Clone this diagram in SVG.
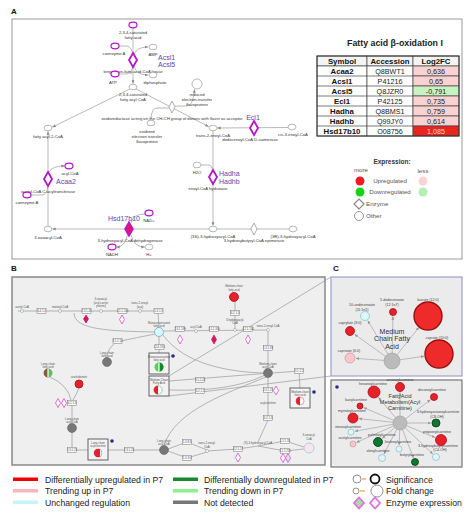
<svg xmlns="http://www.w3.org/2000/svg" width="474" height="519" viewBox="0 0 474 519">
<style>
text{font-family:'Liberation Sans',Arial,sans-serif}
.t4{font-size:4.2px;fill:#333;text-anchor:middle}
.gene{font-size:7px;fill:#5548b0}
.pl{font-size:8px;font-weight:bold;fill:#111}
.mag{fill:#fff;stroke:#b515c8;stroke-width:1.2}
.gry{fill:#fff;stroke:#999;stroke-width:0.7}
.enz{fill:#fff;stroke:#b515c8;stroke-width:1.8}
.genz{fill:#fff;stroke:#999;stroke-width:0.8}
.ln{fill:none;stroke:#8a8a8a;stroke-width:0.6}
.th{font-size:7.8px;font-weight:bold;fill:#111;text-anchor:middle}
.td{font-size:7.2px;fill:#222;text-anchor:middle}
.cell{fill:#fff;stroke:#444;stroke-width:0.7}
.lg{font-size:6.2px;fill:#555}
.bl{fill:none;stroke:#9a9a9a;stroke-width:0.7}
.br{fill:#f9f9f9;stroke:#777;stroke-width:0.5}
.bt{font-size:2.8px;fill:#555;text-anchor:middle}
.sm{fill:#fff;stroke:#888;stroke-width:0.5}
.gc{fill:#777;stroke:#666;stroke-width:0.6}
.pd{fill:#fff;stroke:#e060d0;stroke-width:0.9}
.rd{fill:#e0106a;stroke:#c0105a;stroke-width:0.6}
.frame{fill:#f3f3f3;stroke:#555;stroke-width:0.9}
.ct{font-size:3.6px;fill:#444;text-anchor:middle}
.cl{fill:none;stroke:#999;stroke-width:0.6}
.red{fill:#e8202a;stroke:#a81018;stroke-width:0.8}
.pink{fill:#f9c8cc;stroke:#c88890;stroke-width:0.6}
.cyan{fill:#dcf6fa;stroke:#7fb0c0;stroke-width:0.6}
.dgreen{fill:#10782e;stroke:#063818;stroke-width:0.8}
.leg{font-size:8.7px;fill:#222}
</style>
<defs>
<marker id="ar" viewBox="0 0 6 6" refX="5.5" refY="3" markerWidth="3.5" markerHeight="3.5" orient="auto" markerUnits="userSpaceOnUse"><path d="M0,0.5 L6,3 L0,5.5 Z" fill="#888"/></marker>
<marker id="ac" viewBox="0 0 6 6" refX="5.5" refY="3" markerWidth="3.5" markerHeight="3.5" orient="auto" markerUnits="userSpaceOnUse"><path d="M0,0.5 L6,3 L0,5.5 Z" fill="#999"/></marker>
</defs>
<rect width="474" height="519" fill="#fff"/>

<!-- Panel labels -->
<text class="pl" x="11" y="14">A</text>
<text class="pl" x="11" y="271">B</text>
<text class="pl" x="333" y="271">C</text>

<!-- ================= PANEL A ================= -->
<rect x="12" y="19" width="450" height="240" fill="#fff" stroke="#999" stroke-width="1"/>

<g id="connectorsA">
<path class="ln" d="M133,28 L133,83.5" marker-end="url(#ar)"/>
<path class="ln" d="M119,46 L126,46 Q131,46 132.5,53"/>
<path class="ln" d="M134,55 Q136,47 148,47" marker-end="url(#ar)"/>
<path class="ln" d="M119,74 L126,74 Q131,74 132.5,67"/>
<path class="ln" d="M134,66 Q136,75 148,75" marker-end="url(#ar)"/>
<path class="ln" d="M130,89 L52.5,127" marker-end="url(#ar)"/>
<path class="ln" d="M136,89 L208.5,126.5" marker-end="url(#ar)"/>
<path class="ln" d="M169,108 L157,108 Q151.5,108 151,119"/>
<path class="ln" d="M175,106 L187,106 Q193,106 194.5,89.5" marker-end="url(#ar)"/>
<path class="ln" d="M48,226 L48,131.5" marker-end="url(#ar)"/>
<path class="ln" d="M49,172 Q52,166 64.5,166" marker-end="url(#ar)"/>
<path class="ln" d="M31,195 L42,195 Q47,195 47.5,187"/>
<path class="ln" d="M213,131 L213,225.5" marker-end="url(#ar)"/>
<path class="ln" d="M201,165 L208,165 Q212.5,165 212.5,171"/>
<path class="ln" d="M209,229 L52.5,229" marker-end="url(#ar)"/>
<path class="ln" d="M145,214 Q133,214 131,223"/>
<path class="ln" d="M127.5,235 Q125,247 116.5,247" marker-end="url(#ar)"/>
<path class="ln" d="M131,235 Q134,247 144.5,247" marker-end="url(#ar)"/>
<path class="ln" d="M288,127.5 L217.5,128" marker-end="url(#ar)"/>
<path class="ln" d="M217,229 L289,229"/>
</g>

<g id="a-fattyacid"><ellipse class="mag" cx="133" cy="25" rx="4" ry="2.8"/><text class="t4" x="133" y="33.5">2,3,4-saturated</text><text class="t4" x="133" y="38.5">fatty acid</text></g>
<g id="a-coa1"><ellipse class="mag" cx="115" cy="46" rx="4" ry="2.8"/><text class="t4" x="114" y="54.5">coenzyme A</text></g>
<g id="a-amp"><ellipse class="gry" cx="153" cy="47" rx="4" ry="2.8"/><text class="t4" x="153" y="55.5">AMP</text></g>
<g id="a-acsl"><path class="enz" d="M133,53 L137,60 L133,67 L129,60 Z"/><text class="gene" x="158" y="59.5">Acsl1</text><text class="gene" x="158" y="66.5">Acsl5</text><text class="t4" x="133" y="72.5">long-chain-fatty-acid-CoA ligase</text></g>
<g id="a-atp"><ellipse class="mag" cx="115" cy="74" rx="4" ry="2.8"/><text class="t4" x="113" y="83.5">ATP</text></g>
<g id="a-ppi"><ellipse class="gry" cx="153" cy="75" rx="4" ry="2.8"/><text class="t4" x="155" y="83.5">diphosphate</text></g>
<g id="a-facoa"><ellipse class="gry" cx="133" cy="87" rx="4" ry="2.8"/><text class="t4" x="133" y="95.5">2,3,4-saturated</text><text class="t4" x="133" y="100.5">fatty acyl CoA</text></g>
<g id="a-redetf"><circle class="gry" cx="197" cy="84" r="5"/><text class="t4" x="197" y="95.5">reduced</text><text class="t4" x="197" y="100.5">electron-transfer</text><text class="t4" x="197" y="105.5">flavoprotein</text></g>
<g id="a-oxidored"><path class="genz" d="M172,101 L175,107 L172,113 L169,107 Z"/><text class="t4" x="172" y="119.5">oxidoreductase acting on the CH-CH group of donors with flavin as acceptor</text></g>
<g id="a-oxetf"><ellipse class="gry" cx="151" cy="123" rx="4" ry="2.8"/><text class="t4" x="147" y="132.5">oxidized</text><text class="t4" x="147" y="137.5">electron transfer</text><text class="t4" x="147" y="142.5">flavoprotein</text></g>
<g id="a-fa2"><ellipse class="gry" cx="48" cy="128" rx="4" ry="2.8"/><text class="t4" x="48" y="137.5">fatty acyl-2-CoA</text></g>
<g id="a-acylcoa"><ellipse class="mag" cx="69" cy="166" rx="4" ry="2.8"/><text class="t4" x="70" y="174.5">acyl-CoA</text></g>
<g id="a-acaa2"><path class="enz" d="M48,172 L52,179 L48,186 L44,179 Z"/><text class="gene" x="56" y="183.5">Acaa2</text><text class="t4" x="48" y="192.5">acetyl-CoA C-acyltransferase</text></g>
<g id="a-coa2"><ellipse class="mag" cx="27" cy="195" rx="4" ry="2.8"/><text class="t4" x="27" y="203.5">coenzyme A</text></g>
<g id="a-oxoacyl"><ellipse class="gry" cx="48" cy="229" rx="4" ry="2.8"/><text class="t4" x="48" y="238.5">3-oxoacyl-CoA</text></g>
<g id="a-hsd"><path d="M129,222 L133,229 L129,236 L125,229 Z" fill="#e3157d" stroke="#b515c8" stroke-width="1.5"/><text class="gene" x="124" y="220.5" text-anchor="middle">Hsd17b10</text><text class="t4" x="130" y="241.5">3-hydroxyacyl-CoA dehydrogenase</text></g>
<g id="a-nad"><ellipse class="mag" cx="149" cy="213" rx="4" ry="2.8"/><text class="t4" x="149" y="221.5">NAD+</text></g>
<g id="a-nadh"><ellipse class="mag" cx="112" cy="247" rx="4" ry="2.8"/><text class="t4" x="112" y="255.5">NADH</text></g>
<g id="a-h"><ellipse class="gry" cx="149" cy="247" rx="4" ry="2.8"/><text class="t4" x="149" y="255.5">H+</text></g>
<g id="a-3s"><ellipse class="gry" cx="213" cy="229" rx="4" ry="2.8"/><text class="t4" x="213" y="237.5">(3S)-3-hydroxyacyl-CoA</text></g>
<g id="a-epim"><path class="genz" d="M254,223 L257,229 L254,235 L251,229 Z"/><text class="t4" x="254" y="241.5">3-hydroxybutyryl-CoA epimerase</text></g>
<g id="a-3r"><ellipse class="gry" cx="293" cy="229" rx="4" ry="2.8"/><text class="t4" x="293" y="237.5">(3R)-3-hydroxyacyl-CoA</text></g>
<g id="a-h2o"><ellipse class="gry" cx="197" cy="165" rx="4" ry="2.8"/><text class="t4" x="197" y="173.5">H2O</text></g>
<g id="a-hadh"><path class="enz" d="M213,170 L217,177 L213,184 L209,177 Z"/><text class="gene" x="219" y="175.5">Hadha</text><text class="gene" x="219" y="184">Hadhb</text><text class="t4" x="208" y="189.5">enoyl-CoA hydratase</text></g>
<g id="a-t2"><ellipse class="gry" cx="213" cy="128" rx="4" ry="2.8"/><text class="t4" x="213" y="136.5">trans-2-enoyl-CoA</text></g>
<g id="a-ecl1"><path class="enz" d="M254,121 L258,128 L254,135 L250,128 Z"/><text class="gene" x="253" y="119.5" text-anchor="middle">Ecl1</text><text class="t4" x="250" y="140.5">dodecenoyl-CoA D-isomerase</text></g>
<g id="a-c3"><ellipse class="gry" cx="292" cy="127" rx="4" ry="2.8"/><text class="t4" x="293" y="135.5">cis-3-enoyl-CoA</text></g>

<!-- Table -->
<g id="a-table">
<text x="395" y="46" font-size="8.8" font-weight="bold" fill="#222" text-anchor="middle">Fatty acid β-oxidation I</text>
<rect x="317" y="56" width="50" height="10" class="cell" fill="#f4f4f4" style="fill:#f4f4f4"/>
<rect x="367" y="56" width="46" height="10" class="cell" style="fill:#f4f4f4"/>
<rect x="413" y="56" width="46" height="10" class="cell" style="fill:#f4f4f4"/>
<text class="th" x="342" y="63.8">Symbol</text><text class="th" x="390" y="63.8">Accession</text><text class="th" x="436" y="63.8">Log2FC</text>
<rect x="317" y="66" width="50" height="70" class="cell"/>
<rect x="367" y="66" width="46" height="70" class="cell"/>
<rect x="413" y="66" width="46" height="10" class="cell" style="fill:#fbd2d2"/>
<rect x="413" y="76" width="46" height="10" class="cell" style="fill:#fbd2d2"/>
<rect x="413" y="86" width="46" height="10" class="cell" style="fill:#c9f2c2"/>
<rect x="413" y="96" width="46" height="10" class="cell" style="fill:#fbd2d2"/>
<rect x="413" y="106" width="46" height="10" class="cell" style="fill:#fbd2d2"/>
<rect x="413" y="116" width="46" height="10" class="cell" style="fill:#fbd2d2"/>
<rect x="413" y="126" width="46" height="10" class="cell" style="fill:#e8261f"/>
<path d="M317,76 H413 M317,86 H413 M317,96 H413 M317,106 H413 M317,116 H413 M317,126 H413" stroke="#444" stroke-width="0.7"/>
<rect x="317" y="56" width="142" height="80" fill="none" stroke="#333" stroke-width="1"/>
<text class="th" x="342" y="73.8">Acaa2</text><text class="td" x="390" y="73.8">Q8BWT1</text><text class="td" x="436" y="73.8">0,636</text>
<text class="th" x="342" y="83.8">Acsl1</text><text class="td" x="390" y="83.8">P41216</text><text class="td" x="436" y="83.8">0,65</text>
<text class="th" x="342" y="93.8">Acsl5</text><text class="td" x="390" y="93.8">Q8JZR0</text><text class="td" x="436" y="93.8">-0,791</text>
<text class="th" x="342" y="103.8">Ecl1</text><text class="td" x="390" y="103.8">P42125</text><text class="td" x="436" y="103.8">0,735</text>
<text class="th" x="342" y="113.8">Hadha</text><text class="td" x="390" y="113.8">Q8BMS1</text><text class="td" x="436" y="113.8">0,759</text>
<text class="th" x="342" y="123.8">Hadhb</text><text class="td" x="390" y="123.8">Q99JY0</text><text class="td" x="436" y="123.8">0,614</text>
<text class="th" x="342" y="133.8">Hsd17b10</text><text class="td" x="390" y="133.8">O08756</text><text class="td" x="436" y="133.8" style="fill:#fbd0d0">1,085</text>
</g>

<!-- Expression legend -->
<g id="a-legend">
<text x="392" y="164" font-size="6.5" font-weight="bold" fill="#333" text-anchor="middle">Expression:</text>
<text class="lg" x="361" y="172" text-anchor="middle">more</text>
<text class="lg" x="423" y="173" text-anchor="middle">less</text>
<circle cx="360" cy="181" r="4.5" fill="#f01c24"/>
<text class="lg" x="390" y="183" text-anchor="middle">Upregulated</text>
<circle cx="423" cy="181" r="4.5" fill="#fbd3d6"/>
<circle cx="360" cy="192" r="4.5" fill="#16d316"/>
<text class="lg" x="390" y="194" text-anchor="middle">Downregulated</text>
<circle cx="423" cy="192" r="4.5" fill="#b4f0b4"/>
<path d="M359,199 L364,204 L359,209 L354,204 Z" fill="#fff" stroke="#888" stroke-width="1.2"/>
<text class="lg" x="366" y="206">Enzyme</text>
<circle cx="359" cy="216" r="4.5" fill="#fff" stroke="#888" stroke-width="0.9"/>
<text class="lg" x="366" y="218">Other</text>
</g>

<!-- ================= PANEL B ================= -->
<rect x="12" y="277" width="313" height="188" fill="#efefef" stroke="#888" stroke-width="1.5"/>
<!-- ================= PANEL C boxes ================= -->
<rect x="331" y="277" width="131" height="99" fill="#ebebeb" stroke="#a0a0d0" stroke-width="1.2"/>
<rect x="331" y="380" width="131" height="87" fill="#ebebeb" stroke="#777" stroke-width="1.2"/>

<g id="connectorsB">
<path class="bl" d="M18,311 L158,311 M158,313 L159,327.5"/>
<path class="bl" d="M74,313 C74,330 110,331 154.5,332"/>
<path class="bl" d="M155,334 Q135,338 121,341 M114,344 Q107,350 107,357.5"/>
<path class="bl" d="M159,336.5 L159,353"/>
<path class="bl" d="M163.5,331 L268,330"/>
<path class="bl" d="M235,330 L235,301.5"/>
<path class="bl" d="M268,330 L268,368.5"/>
<path class="bl" d="M272.5,373 L299,371 L300,388"/>
<path class="bl" d="M268,377.5 L268,420 L258,442"/>
<path class="bl" d="M169,381 L264,373.5 M169,390 Q230,392 264,375.5"/>
<path class="bl" d="M163,335 C185,365 230,372 264,373"/>
<path class="bl" d="M50,377 Q68,385 71,400 M79,388 Q76,395 73,400"/>
<path class="bl" d="M72,405 L72,448"/>
<path class="bl" d="M72,450 L164,450 M168,449 L187,442 L207,450 M168,451 L187,458 L207,452 M207,451 L238,449 L258,446 L285,441 L304,447 M258,446 L285,451 L304,449"/>
<path class="bl" d="M164,445.5 C175,410 230,392 266,377"/>
<path class="bl" d="M169,376 L331,277 M169,396 L331,376"/>
</g>

<g id="b-acetylcoa"><circle class="sm" cx="22" cy="311" r="1.5"/><text class="bt" x="22" y="308">acetyl-CoA</text></g>
<g id="b-r1"><rect class="br" x="37" y="308.5" width="9" height="5"/><text class="bt" x="41.5" y="312">6.4.1.2</text></g>
<g id="b-malonyl"><circle class="sm" cx="60" cy="311" r="1.5"/><text class="bt" x="60" y="308">malonyl-CoA</text></g>
<g id="b-r2"><rect class="br" x="82" y="308.5" width="9" height="5"/><text class="bt" x="86.5" y="312">2.3.1.41</text><path class="rd" d="M86,315 L88.5,319 L86,323 L83.5,319 Z"/></g>
<g id="b-oxoacp"><circle class="sm" cx="101" cy="311" r="1.5"/><text class="bt" x="101" y="300">3-oxoacyl-</text><text class="bt" x="101" y="303.5">[acyl-carrier</text><text class="bt" x="101" y="307">protein]</text></g>
<g id="b-r3"><rect class="br" x="118" y="308.5" width="9" height="5"/><text class="bt" x="122.5" y="312">1.1.1.100</text><path class="pd" d="M122,315 L124.5,319.5 L122,324 L119.5,319.5 Z"/></g>
<g id="b-enoylacp"><circle class="sm" cx="140" cy="311" r="1.5"/><text class="bt" x="140" y="304">trans-2-enoyl-</text><text class="bt" x="140" y="307.5">[acp]</text></g>
<g id="b-r4"><rect class="br" x="154" y="308.5" width="9" height="5"/><text class="bt" x="158.5" y="312">1.3.1.9</text></g>
<g id="b-mufa"><circle cx="159" cy="332" r="4.5" fill="#d8f8fc" stroke="#5aaac0" stroke-width="0.7"/><text class="bt" x="159" y="323.5">Monounsaturated</text><text class="bt" x="159" y="327">fatty acid</text></g>
<g id="b-r5"><rect class="br" x="113" y="338.5" width="9" height="5"/><text class="bt" x="117.5" y="342">3.1.2.14</text></g>
<g id="b-lcfa1"><circle class="gc" cx="107" cy="362" r="4.5"/><text class="bt" x="107" y="353.5">Long-chain</text><text class="bt" x="107" y="357">fatty acid</text></g>
<g id="b-r6"><rect class="br" x="155" y="344.5" width="9" height="5"/><text class="bt" x="159.5" y="348">1.14.19.1</text></g>
<g id="b-box1"><rect class="frame" x="149" y="353" width="20" height="21"/><text class="bt" x="159" y="357.5">Monounsaturated</text><text class="bt" x="159" y="361">fatty acid</text><circle cx="159" cy="367" r="4.5" fill="#5ccc5c"/><path d="M159,362.5 A4.5,4.5 0 0 1 159,371.5 Z" fill="#138a2a"/><rect x="158.4" y="362.5" width="1.2" height="9" fill="#fff"/></g>
<g id="b-dot1"><circle cx="173" cy="356" r="1.8" fill="#2a2a8a"/></g>
<g id="b-box2"><rect class="frame" x="149" y="376" width="20" height="20"/><text class="bt" x="159" y="380.5">Medium Chain</text><text class="bt" x="159" y="384">Fatty Acid</text><circle cx="158" cy="390" r="4.2" fill="#fff" stroke="#5ab08a" stroke-width="0.6"/><path d="M158,385.8 A4.2,4.2 0 0 0 158,394.2 Z" fill="#e8202a"/></g>
<g id="b-rB1"><rect class="br" x="175.5" y="326.5" width="9" height="5"/><text class="bt" x="180" y="330">2.3.1.199</text><path class="pd" d="M180,335 L182.5,339.5 L180,344 L177.5,339.5 Z"/></g>
<g id="b-acylcoa"><circle class="sm" cx="196" cy="331" r="1.5"/><text class="bt" x="196" y="327.5">acyl-CoA</text></g>
<g id="b-rB2"><rect class="br" x="209.5" y="326.5" width="9" height="5"/><text class="bt" x="214" y="330">1.1.1.330</text><path class="rd" d="M214,335 L216.5,339.5 L214,344 L211.5,339.5 Z"/></g>
<g id="b-hydroxy"><circle class="sm" cx="235" cy="330" r="1.5"/><text class="bt" x="235" y="320.5">3-hydroxyacyl-</text><text class="bt" x="235" y="324">CoA</text></g>
<g id="b-rB3"><rect class="br" x="230.5" y="310.5" width="9" height="5"/><text class="bt" x="235" y="314">6.2.1.3</text></g>
<g id="b-red1"><circle class="red" cx="234" cy="297" r="4.5"/><text class="bt" x="234" y="287">Medium-chain</text><text class="bt" x="234" y="290.5">fatty acid</text></g>
<g id="b-rB4"><rect class="br" x="243.5" y="326.5" width="9" height="5"/><text class="bt" x="248" y="330">4.2.1.134</text><path class="pd" d="M248,335 L250.5,339.5 L248,344 L245.5,339.5 Z"/></g>
<g id="b-enoylcoa"><circle class="sm" cx="268" cy="330" r="1.5"/><text class="bt" x="268" y="326.5">trans-2-enoyl-CoA</text></g>
<g id="b-rB5"><rect class="br" x="263.5" y="345.5" width="9" height="5"/><text class="bt" x="268" y="349">1.3.1.93</text></g>
<g id="b-mcfa"><circle class="gc" cx="268" cy="373" r="4.5"/><text class="bt" x="268" y="364.5">Medium-chain</text><text class="bt" x="268" y="368">acyl-CoA</text></g>
<g id="b-rB6"><rect class="br" x="294.5" y="368.5" width="9" height="5"/><text class="bt" x="299" y="372">3.1.2.2</text></g>
<g id="b-box3"><rect class="frame" x="290" y="388" width="20" height="20"/><text class="bt" x="300" y="392.5">Medium-chain</text><text class="bt" x="300" y="396">fatty acid</text><circle cx="300" cy="401" r="4" fill="#fff" stroke="#c05060" stroke-width="0.5"/><path d="M300,397 A4,4 0 0 0 300,405 Z" fill="#e8202a"/></g>
<g id="b-dot3"><circle cx="314" cy="392" r="1.8" fill="#2a2a8a"/></g>
<g id="b-rB7"><rect class="br" x="263.5" y="387.5" width="9" height="5"/><text class="bt" x="268" y="391">2.3.1.21</text><path class="pd" d="M276,386 L278.5,390.5 L276,395 L273.5,390.5 Z"/></g>
<g id="b-carn"><text class="bt" x="268" y="404">acylcarnitine</text></g>
<g id="b-rB8"><rect class="br" x="263.5" y="415.5" width="9" height="5"/><text class="bt" x="268" y="419">6.2.1.3</text></g>
<g id="b-rB9"><rect class="br" x="195.5" y="377.5" width="9" height="5"/><text class="bt" x="200" y="381">3.1.2.20</text></g>
<g id="b-rB10"><rect class="br" x="195.5" y="388.5" width="9" height="5"/><text class="bt" x="200" y="392">6.2.1.2</text></g>
<g id="b-lcfa2"><circle cx="48" cy="373" r="4.2" fill="#5dc05d" stroke="#777" stroke-width="0.4"/><path d="M48,368.8 A4.2,4.2 0 0 0 48,377.2 Z" fill="#8a5a30"/><rect x="47.4" y="368.8" width="1.2" height="8.4" fill="#fff"/><text class="bt" x="48" y="364.5">Long-chain</text><text class="bt" x="48" y="368">fatty acid</text></g>
<g id="b-red2"><circle class="red" cx="79" cy="384" r="4"/><text class="bt" x="79" y="377.5">arachidonate</text></g>
<g id="b-rL1"><rect class="br" x="67.5" y="400.5" width="9" height="5"/><text class="bt" x="72" y="404">6.2.1.3</text><path class="pd" d="M58,398.5 L60.5,403 L58,407.5 L55.5,403 Z"/><path class="pd" d="M64,398.5 L66.5,403 L64,407.5 L61.5,403 Z"/></g>
<g id="b-lcacoa"><circle class="gc" cx="72" cy="428" r="4.5"/><text class="bt" x="72" y="419.5">Long-chain</text><text class="bt" x="72" y="423">acyl-CoA</text></g>
<g id="b-rL2"><rect class="br" x="67.5" y="447.5" width="9" height="5"/><text class="bt" x="72" y="451">2.3.1.21</text></g>
<g id="b-box4"><rect class="frame" x="88" y="439" width="20" height="21"/><text class="bt" x="98" y="443.5">Long-chain</text><text class="bt" x="98" y="447">acylcarnitine</text><circle cx="98" cy="453" r="4.2" fill="#e8202a"/><path d="M100,449.5 A4.2,4.2 0 0 1 100,456.5 Z" fill="#fff"/></g>
<g id="b-dot4"><circle cx="112" cy="441" r="1.8" fill="#2a2a8a"/></g>
<g id="b-rL3"><rect class="br" x="124.5" y="447.5" width="9" height="5"/><text class="bt" x="129" y="451">2.3.1.21</text></g>
<g id="b-lcacoa2"><circle class="gc" cx="164" cy="450" r="4.5"/><text class="bt" x="164" y="441.5">Long-chain</text><text class="bt" x="164" y="445">acyl-CoA</text></g>
<g id="b-rL4"><rect class="br" x="182.5" y="439.5" width="9" height="5"/><text class="bt" x="187" y="443">1.3.8.9</text></g>
<g id="b-rL5"><rect class="br" x="182.5" y="455.5" width="9" height="5"/><text class="bt" x="187" y="459">1.3.3.6</text></g>
<g id="b-enoyl2"><circle class="sm" cx="207" cy="451" r="1.5"/><text class="bt" x="207" y="444">trans-2-enoyl-</text><text class="bt" x="207" y="447.5">CoA</text></g>
<g id="b-rL6"><rect class="br" x="233.5" y="446.5" width="9" height="5"/><text class="bt" x="238" y="450">4.2.1.17</text><path class="pd" d="M238,453 L240.5,457.5 L238,462 L235.5,457.5 Z"/></g>
<g id="b-hydroxy2"><text class="bt" x="258" y="443.5">(S)-3-hydroxyacyl-CoA</text></g>
<g id="b-rL7"><rect class="br" x="280.5" y="438.5" width="9" height="5"/><text class="bt" x="285" y="442">1.1.1.35</text></g>
<g id="b-rL8"><rect class="br" x="280.5" y="448.5" width="9" height="5"/><text class="bt" x="285" y="452">1.1.1.211</text><path class="pd" d="M283,453.5 L285.5,458 L283,462.5 L280.5,458 Z"/><path class="pd" d="M288,453.5 L290.5,458 L288,462.5 L285.5,458 Z" style="fill:#cfe8ee"/></g>
<g id="b-oxo2"><circle cx="309" cy="448" r="5" fill="#fde4e8" stroke="#9fd0dc" stroke-width="0.9"/><text class="bt" x="309" y="436">3-oxoacyl-</text><text class="bt" x="309" y="439.5">CoA</text></g>

<!-- ================= PANEL C top ================= -->
<g id="connectorsC">
<path class="cl" d="M397,354.8 L418.9,327.4" marker-end="url(#ac)"/>
<path class="cl" d="M399.9,359.8 L424.1,356.2" marker-end="url(#ac)"/>
<path class="cl" d="M392.2,353 L392.9,316.5" marker-end="url(#ac)"/>
<path class="cl" d="M387.9,354.1 L367.8,320.7" marker-end="url(#ac)"/>
<path class="cl" d="M385.5,356.4 L354.6,334.3" marker-end="url(#ac)"/>
<path class="cl" d="M384,360.4 L356.1,358.4" marker-end="url(#ac)"/>
<path class="cl" d="M395.5,417.6 L378.5,397.4" marker-end="url(#ac)"/>
<path class="cl" d="M400,416 L400,392.5" marker-end="url(#ac)"/>
<path class="cl" d="M405.6,418.8 L430.4,399.8" marker-end="url(#ac)"/>
<path class="cl" d="M393.6,420.3 L363.7,407.6" marker-end="url(#ac)"/>
<path class="cl" d="M393,422.3 L359,418.6" marker-end="url(#ac)"/>
<path class="cl" d="M393.1,424.3 L354.9,431.3" marker-end="url(#ac)"/>
<path class="cl" d="M393.6,425.9 L356.6,442.4" marker-end="url(#ac)"/>
<path class="cl" d="M394.7,427.6 L382.2,438.4" marker-end="url(#ac)"/>
<path class="cl" d="M396.8,429.2 L384,454" marker-end="url(#ac)"/>
<path class="cl" d="M399.7,430 L399.2,445" marker-end="url(#ac)"/>
<path class="cl" d="M402.5,429.5 L413.4,457.8" marker-end="url(#ac)"/>
<path class="cl" d="M405.1,427.8 L432.7,453.9" marker-end="url(#ac)"/>
<path class="cl" d="M406.5,425.7 L435,437.5" marker-end="url(#ac)"/>
<path class="cl" d="M407,423 L431,423" marker-end="url(#ac)"/>
</g>

<g id="c-mcfa"><circle cx="392" cy="361" r="8" fill="#bbb" stroke="#9a9a9a" stroke-width="0.6"/><text x="392" y="333.5" font-size="7" fill="#333" text-anchor="middle">Medium</text><text x="392" y="341" font-size="7" fill="#333" text-anchor="middle">Chain Fatty</text><text x="392" y="348.5" font-size="7" fill="#333" text-anchor="middle">Acid</text></g>
<g id="c-laurate"><circle cx="428" cy="316" r="14" fill="#ee2a2a" stroke="#9a1010" stroke-width="1.4"/><text class="ct" x="428" y="301">laurate (12:0)</text></g>
<g id="c-caprate"><circle cx="439" cy="354" r="14" fill="#ee2a2a" stroke="#9a1010" stroke-width="1.4"/><text class="ct" x="437" y="338.5">caprate (10:0)</text></g>
<g id="c-dodecenoate"><circle class="red" cx="393" cy="312" r="3.5"/><text class="ct" x="392" y="300.5">5-dodecenoate</text><text class="ct" x="392" y="305.5">(12:1n7)</text></g>
<g id="c-undecenoate"><circle class="cyan" cx="365" cy="316" r="4.5"/><text class="ct" x="362" y="305.5">10-undecenoate</text><text class="ct" x="362" y="310.5">(11:1n1)</text></g>
<g id="c-caprylate"><circle class="red" cx="350" cy="331" r="4.5"/><text class="ct" x="350" y="324">caprylate (8:0)</text></g>
<g id="c-caproate"><circle class="pink" cx="350" cy="358" r="5"/><text class="ct" x="349" y="352">caproate (6:0)</text></g>

<!-- ================= PANEL C bottom ================= -->
<g id="c-dot"><circle cx="337" cy="387" r="1.8" fill="#2a2a8a"/></g>
<g id="c-facarn"><circle cx="400" cy="423" r="7" fill="#bbb" stroke="#9a9a9a" stroke-width="0.6"/><text x="400" y="398" font-size="5.5" fill="#333" text-anchor="middle">FattyAcid</text><text x="400" y="404" font-size="5.5" fill="#333" text-anchor="middle">Metabolism(Acyl</text><text x="400" y="410" font-size="5.5" fill="#333" text-anchor="middle">Carnitine)</text></g>
<g id="c-n1"><circle class="red" cx="374" cy="392" r="6"/><text class="ct" x="373" y="385">hexanoylcarnitine</text></g>
<g id="c-n2"><circle class="red" cx="400" cy="387" r="4.5"/><text class="ct" x="400" y="381">octanoylcarnitine</text></g>
<g id="c-n3"><circle class="red" cx="434" cy="397" r="3.5"/><text class="ct" x="432" y="390.5">decanoylcarnitine</text></g>
<g id="c-n4"><circle class="red" cx="360" cy="406" r="3"/><text class="ct" x="356" y="401">laurylcarnitine</text></g>
<g id="c-n5"><circle class="red" cx="353" cy="418" r="5"/><text class="ct" x="352" y="411.5">myristoylcarnitine</text></g>
<g id="c-n6"><circle class="cyan" cx="351" cy="432" r="3"/><text class="ct" x="348" y="427.5">stearoylcarnitine</text></g>
<g id="c-n7"><circle class="pink" cx="353" cy="444" r="3"/><text class="ct" x="350" y="438.5">acetylcarnitine</text></g>
<g id="c-n8"><circle class="dgreen" cx="378" cy="442" r="4.5"/><text class="ct" x="382" y="435.5">palmitoylcarnitine</text></g>
<g id="c-n9"><circle class="cyan" cx="382" cy="458" r="3.5"/><text class="ct" x="378" y="452">oleoylcarnitine</text></g>
<g id="c-n10"><circle class="cyan" cx="399" cy="449" r="3"/><text class="ct" x="398" y="442.5">linoleoylcarnitine</text></g>
<g id="c-n11"><circle class="dgreen" cx="415" cy="462" r="3.5"/><text class="ct" x="412" y="456">butyrylcarnitine</text></g>
<g id="c-n12"><circle class="cyan" cx="436" cy="457" r="3.5"/><text class="ct" x="438" y="447">3-hydroxybutyrylcarnitine</text><text class="ct" x="440" y="451">(C4-OH)</text></g>
<g id="c-n13"><circle class="red" cx="441" cy="440" r="5.5"/><text class="ct" x="437" y="433">propionylcarnitine</text></g>
<g id="c-n14"><circle class="dgreen" cx="436" cy="423" r="4"/><text class="ct" x="438" y="413">3-hydroxyoctanoylcarnitine</text><text class="ct" x="437" y="417.5">(C8-OH)</text></g>

<!-- ================= Bottom legend ================= -->
<g id="legend">
<rect x="13" y="477.5" width="25" height="3.5" fill="#f00000"/>
<text class="leg" x="45" y="482.5">Differentially upregulated in P7</text>
<rect x="13" y="489" width="25" height="3.5" fill="#f6b6bb"/>
<text class="leg" x="45" y="494">Trending up in P7</text>
<rect x="13" y="500.5" width="25" height="3.5" fill="#c8f4f8"/>
<text class="leg" x="45" y="505.5">Unchanged regulation</text>
<rect x="173" y="477.5" width="25" height="3.5" fill="#178a30"/>
<text class="leg" x="204" y="482.5">Differentially downregulated in P7</text>
<rect x="173" y="489" width="25" height="3.5" fill="#8ef08e"/>
<text class="leg" x="204" y="494">Trending down in P7</text>
<rect x="173" y="500.5" width="25" height="3.5" fill="#777"/>
<text class="leg" x="204" y="505.5">Not detected</text>
<circle cx="357" cy="479" r="4" fill="#fff" stroke="#777" stroke-width="0.8"/>
<path d="M362,479 L366,479" stroke="#f0a040" stroke-width="1.2"/>
<circle cx="375" cy="479" r="4.5" fill="#fff" stroke="#111" stroke-width="1.8"/>
<text class="leg" x="386" y="482.5">Significance</text>
<circle cx="356" cy="491" r="3" fill="#fff" stroke="#777" stroke-width="0.8"/>
<path d="M360,491 L365,491" stroke="#f0a040" stroke-width="1.2"/>
<circle cx="377" cy="491" r="6" fill="#fff" stroke="#777" stroke-width="0.8"/>
<text class="leg" x="386" y="494">Fold change</text>
<path d="M359,497.5 L364,503 L359,508.5 L354,503 Z" fill="#a8dca8" stroke="#e070e0" stroke-width="1.8"/>
<path d="M375,497.5 L380,503 L375,508.5 L370,503 Z" fill="#fff" stroke="#e070e0" stroke-width="1.8"/>
<text class="leg" x="386" y="506">Enzyme expression</text>
</g>
</svg>
